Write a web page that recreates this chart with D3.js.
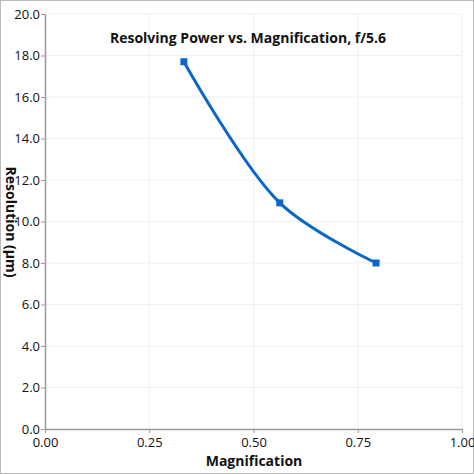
<!DOCTYPE html>
<html><head><meta charset="utf-8">
<script src="https://cdn.jsdelivr.net/npm/d3@7"></script>
<style>body{margin:0;background:#fff}text{font-family:"Open Sans","DejaVu Sans",sans-serif}</style>
</head><body><svg id="c" width="474" height="474"></svg>
<script>
var magnification = [0.333, 0.563, 0.794];
var resolution = [17.7, 10.9, 8.0];
var xTicks = [0, 0.25, 0.5, 0.75, 1.0];
var yTicks = [0, 2, 4, 6, 8, 10, 12, 14, 16, 18, 20];

var svg = d3.select("#c");
svg.append("rect").attr("x", 0.5).attr("y", 0.5).attr("width", 473).attr("height", 473)
    .attr("fill", "#fff").attr("stroke", "#bbb");

var x = d3.scaleLinear().domain([0, 1]).range([45, 462]),
    y = d3.scaleLinear().domain([0, 20]).range([429, 14]);

var g = svg.append("g");
g.selectAll(".gx").data(xTicks.slice(1)).enter().append("line")
    .attr("x1", x).attr("x2", x).attr("y1", y(0)).attr("y2", y(20)).attr("stroke", "#f0f0f0");
g.selectAll(".gy").data(yTicks.slice(1)).enter().append("line")
    .attr("y1", y).attr("y2", y).attr("x1", x(0)).attr("x2", x(1)).attr("stroke", "#f0f0f0");

var xa = svg.append("g").attr("transform", "translate(0," + y(0) + ")")
    .call(d3.axisBottom(x).tickValues(xTicks).tickFormat(d3.format(".2f")).tickSize(4).tickSizeOuter(0));
var ya = svg.append("g").attr("transform", "translate(" + x(0) + ",0)")
    .call(d3.axisLeft(y).tickValues(yTicks).tickFormat(d3.format(".1f")).tickSize(4).tickSizeOuter(0));
[xa, ya].forEach(function (a) {
    a.select(".domain").attr("stroke", "#999").attr("stroke-width", 1.5);
    a.selectAll(".tick line").attr("stroke", "#999");
    a.selectAll("text").attr("font-size", 13).attr("fill", "#111");
});
xa.selectAll("text").attr("dy", "0.85em");
ya.selectAll("text").attr("x", -5);

var pts = magnification.map(function (m, i) { return [m, resolution[i]]; });
svg.append("path").datum(pts)
    .attr("d", d3.line().x(function (d) { return x(d[0]); }).y(function (d) { return y(d[1]); })
        .curve(d3.curveCatmullRom.alpha(0.5)))
    .attr("fill", "none").attr("stroke", "#0a66c8").attr("stroke-width", 3);
svg.selectAll(".pt").data(pts).enter().append("rect")
    .attr("x", function (d) { return x(d[0]) - 3.5; }).attr("y", function (d) { return y(d[1]) - 3.5; })
    .attr("width", 7).attr("height", 7).attr("fill", "#0a66c8");

svg.append("text").attr("x", 248).attr("y", 43).attr("text-anchor", "middle")
    .attr("font-size", 14).attr("font-weight", "bold").attr("fill", "#111")
    .text("Resolving Power vs. Magnification, f/5.6");
svg.append("text").attr("x", 254).attr("y", 466).attr("text-anchor", "middle")
    .attr("font-size", 14).attr("font-weight", "bold").attr("fill", "#111").text("Magnification");
svg.append("text").attr("transform", "translate(6,222) rotate(90)").attr("text-anchor", "middle")
    .attr("font-size", 14).attr("font-weight", "bold").attr("fill", "#111").text("Resolution (µm)");
</script></body></html>
